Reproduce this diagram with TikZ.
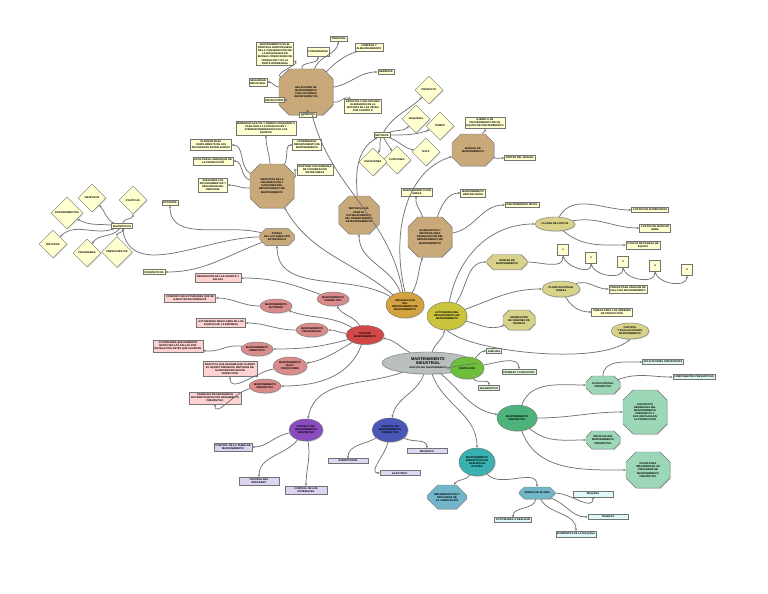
\documentclass[tikz,border=0pt]{standalone}
\usepackage{fontspec}
\setmainfont{Liberation Sans}
\usetikzlibrary{shapes.geometric, shapes.misc, shadows, arrows.meta}
\definecolor{cream}{HTML}{FFFFD0}
\definecolor{tanoct}{HTML}{C9A97A}
\definecolor{goldell}{HTML}{D4A23F}
\definecolor{redell}{HTML}{D04848}
\definecolor{pinkell}{HTML}{DA8C8C}
\definecolor{pinkbox}{HTML}{FFD2D2}
\definecolor{oliveell}{HTML}{C9C43C}
\definecolor{olivelt}{HTML}{D8D28A}
\definecolor{greenell}{HTML}{6CBF38}
\definecolor{greenbox}{HTML}{E2F7DA}
\definecolor{seagreen}{HTML}{4CB47A}
\definecolor{mint}{HTML}{9CD8B8}
\definecolor{mintbox}{HTML}{DDF7EC}
\definecolor{tealell}{HTML}{3AB0B0}
\definecolor{blueteal}{HTML}{72B6CA}
\definecolor{cyanbox}{HTML}{DDF9F9}
\definecolor{blueell}{HTML}{4A57B8}
\definecolor{lavbox}{HTML}{DADAF5}
\definecolor{purpleell}{HTML}{8A4BBE}
\definecolor{lavbox2}{HTML}{DDD4F2}
\definecolor{grayell}{HTML}{B9BFBF}

\tikzset{
  base/.style={draw=black!55, line width=0.4pt, font=\fontsize{2.6}{3.1}\selectfont\bfseries,
    align=center, inner sep=1.4pt,
    drop shadow={shadow xshift=0.8pt, shadow yshift=-0.8pt, fill=black!35}},
  box/.style={base, rectangle, fill=cream},
  pbox/.style={base, rectangle, fill=pinkbox, inner sep=1.8pt},
  dia/.style={base, diamond, aspect=1, fill=cream, inner sep=0pt, minimum size=28pt},
  oct/.style={base, chamfered rectangle, chamfered rectangle xsep=5pt, chamfered rectangle ysep=5pt, fill=tanoct},
  ell/.style={base, ellipse, inner sep=0pt},
  arr/.style={-{Stealth[length=2.6pt,width=2.2pt]}, draw=black!55, line width=0.75pt},
}

\begin{document}
\begin{tikzpicture}[x=1pt,y=1pt]
\useasboundingbox (0,0) rectangle (768,-594);

% relaciones con otros departamentos
\node[oct, minimum width=54pt, minimum height=46pt] (rel) at (306,-92) {RELACIONES DE\\MANTENIMIENTO\\CON LOS DEMÁS\\DEPARTAMENTOS};
\node[box] (resp) at (275,-54) {MANTENIMIENTO ES EL\\PRINCIPAL RESPONSABLE\\DE LA CONSERVACIÓN DE\\LA MAQUINARIA EN\\BUENAS CONDICIONES DE\\OPERACIÓN Y ES LA\\PARTE INTERESADA};
\node[box, minimum height=9pt] (contab) at (318,-52) {CONTABILIDAD};
\node[box] (pers) at (339,-39) {PERSONAL};
\node[box] (compras) at (369,-47) {COMPRAS Y\\ALMACENAMIENTO};
\node[box] (ger) at (386,-72) {GERENCIA};
\node[box] (seg) at (258,-82) {SEGURIDAD\\INDUSTRIAL};
\node[box] (prodc) at (274,-100) {PRODUCCIÓN};
\node[box] (ext) at (308,-115) {EXTERNOS};
\node[box] (esp) at (363,-106) {ESPACIOS Y SOLICITUDES\\ELIMINADOS EN LA\\MAYORÍA DE LAS VECES\\POR CLIENTE P.};

\draw[arr] (rel) to[out=150,in=-20] (resp);
\draw[arr] (rel) to[out=100,in=-90] (contab);
\draw[arr] (rel) to[out=70,in=-100] (pers);
\draw[arr] (rel) to[out=45,in=200] (compras);
\draw[arr] (rel) to[out=10,in=180] (ger);
\draw[arr] (rel) to[out=170,in=0] (seg);
\draw[arr] (rel) to[out=195,in=0] (prodc);
\draw[arr] (rel) to[out=-100,in=90] (ext);
\draw[arr] (rel) to[out=-20,in=150] (esp);

% metodos
\node[box] (met) at (382,-135) {MÉTODOS};
\node[dia] (dprod) at (429,-90) {PRODUCTO};
\node[dia] (dmaq) at (416,-119) {MAQUINAS};
\node[dia] (dtiem) at (440,-126) {TIEMPO};
\node[dia] (druta) at (426,-152) {RUTA};
\node[dia] (dfunc) at (397,-160) {FUNCIONES};
\node[dia] (desta) at (373,-162) {ESTACIONES};

\draw[arr] (met) to[out=60,in=-135] (dprod);
\draw[arr] (met) to[out=20,in=-135] (dmaq);
\draw[arr] (met) to[out=0,in=-160] (dtiem);
\draw[arr] (met) to[out=-20,in=170] (druta);
\draw[arr] (met) to[out=-60,in=120] (dfunc);
\draw[arr] (met) to[out=-110,in=60] (desta);

% manual
\node[oct, minimum width=42pt, minimum height=32pt] (man) at (473,-150) {MANUAL DE\\MANTENIMIENTO};
\node[box] (ejem) at (485,-123) {EJEMPLO DE\\PROCEDIMIENTO DE UN\\EQUIPO DE MANTENIMIENTO};
\node[box] (partes) at (520,-158) {PARTES DEL MANUAL};
\draw[arr] (man) to[out=60,in=-90] (ejem);
\draw[arr] (man) to[out=-20,in=180] (partes);

% objetivos
\node[oct, minimum width=44pt, minimum height=44pt] (obj) at (272,-186) {OBJETIVOS DE LA\\ORGANIZACIÓN Y\\FUNCIONES DEL\\DEPARTAMENTO DE\\MANTENIMIENTO};
\node[box] (mini) at (266,-128) {MINIMIZAR GASTOS Y PERFECCIONAMIENTO\\PARA DAR A LA PRODUCCIÓN Y\\ATENDER EMERGENCIAS DE LOS\\EQUIPOS};
\node[box] (plane) at (211,-145) {PLANEAR EN EL\\CUMPLIMIENTO DE LOS\\PROGRAMAS ESTABLECIDOS};
\node[box] (faci) at (213,-161) {FACILITAR EL ARRANQUE DE\\LA PRODUCCIÓN};
\node[box] (aseg) at (213,-185) {ASEGURAR LOS\\PROCEDIMIENTOS Y\\SEGURIDAD DEL\\PERSONAL};
\node[box] (coord) at (307,-145) {COORDINAR EL\\DEPARTAMENTO DE\\MANTENIMIENTO};
\node[box] (most) at (315,-170) {MOSTRAR SUS MANERAS\\DE COOPERACIÓN\\ENTRE ÁREAS};

\draw[arr] (obj) to[out=95,in=-90] (mini);
\draw[arr] (obj) to[out=150,in=0] (plane);
\draw[arr] (obj) to[out=165,in=0] (faci);
\draw[arr] (obj) to[out=185,in=0] (aseg);
\draw[arr] (obj) to[out=60,in=180] (coord);
\draw[arr] (obj) to[out=20,in=180] (most);

% planeacion y diagnostico
\node[oct, minimum width=32pt, minimum height=14pt, chamfered rectangle xsep=3pt, chamfered rectangle ysep=3pt] (plan) at (277,-237) {ETAPAS\\DE LA PLANEACIÓN\\ESTRATÉGICA};
\node[box] (diag) at (122,-226) {DIAGNÓSTICO};
\node[box] (estu) at (170,-203) {ESTUDIOS};
\node[box] (pron) at (154,-272) {PRONÓSTICOS};
\node[dia] (dobj) at (92,-198) {OBJETIVOS};
\node[dia] (dpol) at (133,-200) {POLÍTICAS};
\node[dia, minimum size=32pt] (dproc) at (67,-213) {PROCEDIMIENTOS};
\node[dia] (dmet) at (53,-244) {MÉTODOS};
\node[dia] (dprog) at (87,-253) {PROGRAMAS};
\node[dia, minimum size=31pt] (dpres) at (117,-252) {PRESUPUESTOS};

\draw[arr] (diag) to[out=160,in=-45] (dobj);
\draw[arr] (diag) to[out=80,in=-90] (dpol);
\draw[arr] (diag) to[out=175,in=-30] (dproc);
\draw[arr] (diag) to[out=200,in=45] (dmet);
\draw[arr] (diag) to[out=230,in=60] (dprog);
\draw[arr] (diag) to[out=-60,in=90] (dpres);
\draw[arr] (plan) to[out=180,in=-80] (diag);
\draw[arr] (plan) to[out=165,in=-90] (estu);
\draw[arr] (plan) to[out=200,in=0] (pron);

% metodologia y alternativas
\node[oct, minimum width=40pt, minimum height=38pt] (meto) at (359,-215) {METODOLOGÍA\\PARA EL\\ESTABLECIMIENTO\\DEL DEPARTAMENTO\\DE MANTENIMIENTO};
\draw[arr] (meto) to[out=95,in=-150] (met);

\node[oct, minimum width=44pt, minimum height=40pt] (alter) at (430,-237) {ALTERNATIVAS Y\\MÉTODOS PARA\\ORGANIZACIÓN DEL\\DEPARTAMENTO DE\\MANTENIMIENTO};
\node[box] (areas) at (417,-192) {MANTENIMIENTO POR\\ÁREAS};
\node[box] (centr) at (473,-193) {MANTENIMIENTO\\CENTRALIZADO};
\node[box] (mixto) at (522,-205) {MANTENIMIENTO MIXTO};
\draw[arr] (alter) to[out=110,in=-100] (areas);
\draw[arr] (alter) to[out=70,in=180] (centr);
\draw[arr] (alter) to[out=10,in=180] (mixto);

% organizacion
\node[ell, fill=goldell, minimum width=38pt, minimum height=26pt] (org) at (405,-305) {ORGANIZACIÓN\\DEL\\DEPARTAMENTO DE\\MANTENIMIENTO};
\draw[arr] (org) to[out=100,in=-75] (rel);
\draw[arr] (org) to[out=140,in=-60] (obj);
\draw[arr] (org) to[out=150,in=-90] (plan);
\draw[arr] (org) to[out=110,in=-90] (meto);
\draw[arr] (org) to[out=60,in=-110] (alter);
\draw[arr] (org.north) .. controls (392,-240) and (402,-172) .. (man);

% centro
\node[ell, fill=grayell, minimum width=92pt, minimum height=22pt, font=\fontsize{4}{4.6}\selectfont\bfseries] (cent) at (428,-363) {MANTENIMIENTO\\INDUSTRIAL\\[-0.5pt]{\fontsize{2.4}{2.8}\selectfont GESTIÓN DEL MANTENIMIENTO}};

% tipos de mantenimiento
\node[ell, fill=redell, minimum width=38pt, minimum height=19pt] (tipos) at (365,-335) {TIPOS DE\\MANTENIMIENTO};
\node[ell, fill=pinkell, minimum width=32pt, minimum height=14pt] (pcor) at (333,-299) {MANTENIMIENTO\\CORRECTIVO};
\node[ell, fill=pinkell, minimum width=32pt, minimum height=14pt] (prut) at (276,-306) {MANTENIMIENTO\\RUTINARIO};
\node[ell, fill=pinkell, minimum width=32pt, minimum height=14pt] (ppro) at (312,-330) {MANTENIMIENTO\\PROGRAMADO};
\node[ell, fill=pinkell, minimum width=32pt, minimum height=14pt] (ppre) at (257,-349) {MANTENIMIENTO\\PREDICTIVO};
\node[ell, fill=pinkell, minimum width=34pt, minimum height=18pt] (pcon) at (290,-366) {MANTENIMIENTO\\BAJO\\CONDICIONES};
\node[ell, fill=pinkell, minimum width=32pt, minimum height=14pt] (pprv) at (265,-386) {MANTENIMIENTO\\PREVENTIVO};

\node[pbox] (bcor) at (218,-278) {REPARACIÓN DE LAS AVERÍAS Y\\FALLAS};
\node[pbox] (brut) at (190,-298) {CONJUNTO DE ACTIVIDADES QUE SE\\EJECUTAN EN PERÍODOS};
\node[pbox] (bpro) at (221,-323) {ACTIVIDADES REGULARES DE LOS\\EQUIPOS DE LA EMPRESA};
\node[pbox] (bpre) at (178,-346) {ACTIVIDADES QUE PERMITEN\\DETECTAR LAS FALLAS POR\\REVELACIÓN ANTES QUE SUCEDAN};
\node[pbox] (bcon) at (230,-369) {PRÁCTICA QUE SE DEBE DAR CUANDO\\EL EQUIPO PRESENTA SÍNTOMAS DE\\SU DETERIORO SEGÚN\\INSPECCIÓN};
\node[pbox] (bprv) at (215,-398) {TRABAJOS PROGRAMADOS\\SISTEMATIZADOS POR SEGUIMIENTO\\PREVENTIVO};

\draw[arr] (cent) to[out=150,in=-10] (tipos);
\draw[arr] (tipos) to[out=120,in=-60] (pcor);
\draw[arr] (tipos) to[out=150,in=-20] (prut);
\draw[arr] (tipos) to[out=175,in=0] (ppro);
\draw[arr] (tipos) to[out=195,in=0] (ppre);
\draw[arr] (tipos) to[out=-150,in=10] (pcon);
\draw[arr] (tipos) to[out=-110,in=0] (pprv);
\draw[arr] (pcor) to[out=160,in=0] (bcor);
\draw[arr] (prut) to[out=180,in=0] (brut);
\draw[arr] (ppro) to[out=180,in=0] (bpro);
\draw[arr] (ppre) to[out=170,in=-10] (bpre);
\draw[arr] (pcon) to[out=190,in=-90] (bcon);
\draw[arr] (pprv) to[out=190,in=-90] (bprv);

% actividades
\node[ell, fill=oliveell, minimum width=40pt, minimum height=28pt] (acti) at (447,-316) {ACTIVIDADES DEL\\DEPARTAMENTO DE\\MANTENIMIENTO};
\node[ell, fill=olivelt, minimum width=40pt, minimum height=14pt] (cost) at (555,-224) {CLASES DE COSTOS};
\node[box] (cs) at (650,-210) {COSTOS DE SUMINISTROS};
\node[box] (cmo) at (655,-228) {COSTOS DE MANO DE\\OBRA};
\node[box] (cpe) at (643,-245) {COSTOS DE PARADA DE\\EQUIPO};
\node[oct, fill=olivelt, minimum width=40pt, minimum height=15pt, chamfered rectangle xsep=3pt, chamfered rectangle ysep=3pt] (nive) at (507,-262) {NIVELES DE\\MANTENIMIENTO};
\foreach \i/\x/\y in {1/563/250, 2/591/258, 3/623/262, 4/655/266, 5/687/270}
  \node[box, minimum width=11pt, minimum height=11pt] (n\i) at (\x,-\y) {\i};
\node[ell, fill=olivelt, minimum width=38pt, minimum height=16pt] (plat) at (561,-289) {PLANIFICACIÓN DE\\TAREAS};
\node[box] (tana) at (628,-289) {TAREAS PARA ANÁLISIS DE\\FALLA DE MANTENIMIENTO};
\node[box] (tord) at (612,-312) {TAREAS PARA LAS ÓRDENES\\DE PRODUCCIÓN};
\node[oct, fill=olivelt, minimum width=32pt, minimum height=20pt, chamfered rectangle xsep=3pt, chamfered rectangle ysep=3pt] (gene) at (519,-320) {GENERACIÓN\\DE ÓRDENES DE\\TRABAJO};
\node[ell, fill=olivelt, minimum width=38pt, minimum height=16pt] (ctrl) at (630,-331) {CONTROL\\Y EVALUACIÓN DEL\\MANTENIMIENTO};

\draw[arr] (cent) to[out=70,in=-100] (acti);
\draw[arr] (acti) to[out=80,in=180] (cost);
\draw[arr] (acti) to[out=55,in=180] (nive);
\draw[arr] (acti) to[out=20,in=180] (plat);
\draw[arr] (acti) to[out=-15,in=-160] (gene);
\draw[arr] (acti.south) .. controls (470,-352) and (600,-366) .. (ctrl.south);
\draw[arr] (cost) to[out=60,in=180] (cs);
\draw[arr] (cost) to[out=10,in=180] (cmo);
\draw[arr] (cost) to[out=-40,in=180] (cpe);
\draw[arr] (nive) to[out=0,in=-90] (n1);
\foreach \a/\b in {1/2, 2/3, 3/4, 4/5}
  \draw[arr] (n\a.south) to[out=-80,in=-90] (n\b.south);
\draw[arr] (plat) to[out=20,in=180] (tana);
\draw[arr] (plat) to[out=-60,in=180] (tord);

% inspeccion
\node[ell, fill=greenell, minimum width=34pt, minimum height=22pt] (insp) at (467,-368) {INSPECCIÓN};
\node[box, fill=greenbox] (anal) at (494,-351) {ANÁLISIS};
\node[box, fill=greenbox] (prue) at (519,-372) {PRUEBAS Y EJECUCIÓN};
\node[box, fill=greenbox] (diagn) at (489,-388) {DIAGNÓSTICO};
\draw[arr] (cent) to[out=0,in=180] (insp);
\draw[arr] (insp) to[out=50,in=180] (anal);
\draw[arr] (insp) to[out=10,in=90] (prue);
\draw[arr] (insp) to[out=-60,in=90] (diagn);

% preventivo
\node[ell, fill=seagreen, minimum width=40pt, minimum height=26pt] (prev) at (517,-418) {MANTENIMIENTO\\PREVENTIVO};
\node[oct, fill=mint, minimum width=34pt, minimum height=18pt, chamfered rectangle xsep=3pt, chamfered rectangle ysep=3pt] (evol) at (603,-385) {EVOLUCIÓN DEL\\PREVENTIVO};
\node[box, fill=mintbox] (apli) at (663,-362) {APLICACIONES PREVENTIVAS};
\node[box, fill=mintbox] (comp) at (694,-377) {COMPONENTES PREVENTIVOS};
\node[oct, fill=mint, minimum width=44pt, minimum height=44pt] (conc) at (645,-412) {CONCEPTOS\\GENERALES DEL\\MANTENIMIENTO\\PREVENTIVO Y\\SUS VENTAJAS EN\\LA PRODUCCIÓN};
\node[oct, fill=mint, minimum width=34pt, minimum height=18pt, chamfered rectangle xsep=3pt, chamfered rectangle ysep=3pt] (vent) at (603,-440) {VENTAJAS DEL\\MANTENIMIENTO\\PREVENTIVO};
\node[oct, fill=mint, minimum width=44pt, minimum height=36pt] (pasos) at (648,-470) {PASOS PARA\\IMPLEMENTAR UN\\PROGRAMA DE\\MANTENIMIENTO\\PREVENTIVO};
\draw[arr] (cent) to[out=-40,in=170] (prev);
\draw[arr] (prev) to[out=70,in=180] (evol);
\draw[arr] (prev) to[out=0,in=180] (conc);
\draw[arr] (prev) to[out=-40,in=180] (vent);
\draw[arr] (prev) to[out=-70,in=180] (pasos);
\draw[arr] (evol) to[out=90,in=180] (apli);
\draw[arr] (evol) to[out=20,in=180] (comp);

% predictivo
\node[ell, fill=tealell, minimum width=36pt, minimum height=28pt] (pred) at (477,-462) {MANTENIMIENTO\\PREDICTIVO POR\\ANÁLISIS DE\\ACEITES};
\node[oct, fill=blueteal, minimum width=38pt, minimum height=24pt] (lubr) at (447,-497) {IMPLEMENTACIÓN Y\\PROGRAMA DE\\LA LUBRICACIÓN};
\node[oct, fill=blueteal, minimum width=36pt, minimum height=12pt, chamfered rectangle xsep=3pt, chamfered rectangle ysep=3pt] (tare) at (537,-493) {TAREAS DE RUTINA};
\node[box, fill=cyanbox, minimum width=40pt] (maqu) at (593,-494) {MÁQUINA};
\node[box, fill=cyanbox, minimum width=40pt] (trab) at (608,-517) {TRABAJO};
\node[box, fill=cyanbox] (acre) at (513,-520) {ACTIVIDADES A REALIZAR};
\node[box, fill=cyanbox] (elem) at (576,-534) {ELEMENTOS DE LA MÁQUINA};
\draw[arr] (cent) to[out=-70,in=90] (pred);
\draw[arr] (pred) to[out=-120,in=60] (lubr);
\draw[arr] (pred) to[out=-50,in=90] (tare);
\draw[arr] (tare) to[out=0,in=-90] (maqu);
\draw[arr] (tare) to[out=-20,in=180] (trab);
\draw[arr] (tare) to[out=-100,in=90] (acre);
\draw[arr] (tare) to[out=-60,in=90] (elem);

% correctivo
\node[ell, fill=blueell, minimum width=36pt, minimum height=24pt] (corr) at (390,-430) {CONTROL DE\\MANTENIMIENTO\\CORRECTIVO};
\node[box, fill=lavbox, minimum width=40pt] (subj) at (348,-461) {SUBJETIVIDAD};
\node[box, fill=lavbox, minimum width=40pt] (elec) at (400,-473) {ELÉCTRICO};
\node[box, fill=lavbox, minimum width=40pt] (meca) at (427,-451) {MECÁNICO};
\draw[arr] (cent) to[out=-110,in=80] (corr);
\draw[arr] (corr) to[out=-150,in=90] (subj);
\draw[arr] (corr) to[out=-100,in=180] (elec);
\draw[arr] (corr) to[out=-30,in=90] (meca);

% control preventivo
\node[ell, fill=purpleell, minimum width=34pt, minimum height=22pt] (cprv) at (306,-430) {CONTROL DEL\\MANTENIMIENTO\\PREVENTIVO};
\node[box, fill=lavbox2] (ctar) at (233,-447) {CONTROL DE LA TAREA DE\\MANTENIMIENTO};
\node[box, fill=lavbox2, minimum width=40pt] (cemp) at (259,-481) {CONTROL DEL\\EMPLEADO};
\node[box, fill=lavbox2, minimum width=42pt] (cmat) at (306,-490) {CONTROL DE LOS\\MATERIALES};
\draw[arr] (cent) to[out=-160,in=80] (cprv);
\draw[arr] (cprv) to[out=190,in=0] (ctar);
\draw[arr] (cprv) to[out=-130,in=90] (cemp);
\draw[arr] (cprv) to[out=-80,in=90] (cmat);
\end{tikzpicture}
\end{document}
